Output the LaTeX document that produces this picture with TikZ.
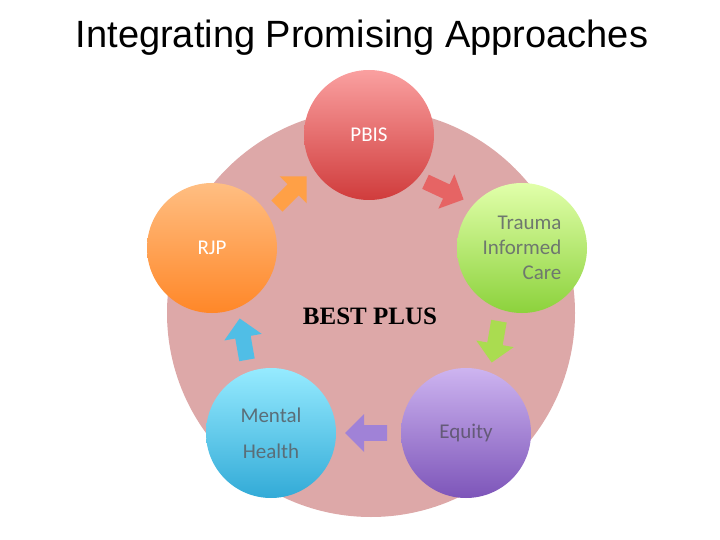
\documentclass[tikz,border=0pt]{standalone}
\usepackage{fontspec}
\setmainfont{Liberation Sans}
\newfontfamily\bodyf{Carlito}
\newfontfamily\serf{Liberation Serif}
\usetikzlibrary{shapes.arrows}
\begin{document}
\begin{tikzpicture}[x=1pt,y=-1pt,
  sc/.style={circle,minimum size=130pt,inner sep=0pt,align=center,font=\bodyf\fontsize{21}{25}\selectfont,text=white},
  ar/.style={single arrow,minimum height=42pt,minimum width=38pt,single arrow head extend=6pt,inner sep=4pt}]
\useasboundingbox (0,0) rectangle (720,540);
\node (title) at (362,38) {\fontsize{38}{44}\selectfont Integrating Promising Approaches};
\node[circle,minimum size=408pt,fill={rgb,255:red,221;green,168;blue,168}] (big) at (371,313) {};
\node (best) at (370,316) {\serf\bfseries\fontsize{25}{28}\selectfont BEST PLUS};
\node[sc,top color={rgb,255:red,250;green,160;blue,160},bottom color={rgb,255:red,208;green,60;blue,60}] (pbis) at (369,135) {PBIS};
\node[sc,top color={rgb,255:red,225;green,255;blue,170},bottom color={rgb,255:red,140;green,210;blue,60},text={rgb,255:red,110;green,120;blue,110},align=right] (tic) at (522,248) {Trauma\\Informed\\Care};
\node[sc,top color={rgb,255:red,205;green,180;blue,240},bottom color={rgb,255:red,125;green,85;blue,185},text={rgb,255:red,100;green,90;blue,120}] (eq) at (466,433) {Equity};
\node[sc,top color={rgb,255:red,150;green,235;blue,255},bottom color={rgb,255:red,50;green,170;blue,215},text={rgb,255:red,90;green,110;blue,120},font=\bodyf\fontsize{21}{36}\selectfont] (mh) at (271,433) {Mental\\Health};
\node[sc,top color={rgb,255:red,255;green,190;blue,130},bottom color={rgb,255:red,255;green,135;blue,40}] (rjp) at (212,248) {RJP};
\node[ar,rotate=45,fill={rgb,255:red,255;green,160;blue,70}] (a1) at (289,194) {};
\node[ar,rotate=-25,fill={rgb,255:red,230;green,100;blue,100}] (a2) at (441,189) {};
\node[ar,rotate=-100,fill={rgb,255:red,170;green,220;blue,80}] (a3) at (496,338) {};
\node[ar,rotate=180,fill={rgb,255:red,160;green,130;blue,215}] (a4) at (370,433) {};
\node[ar,rotate=100,fill={rgb,255:red,80;green,190;blue,230}] (a5) at (244,343) {};
\end{tikzpicture}
\end{document}
